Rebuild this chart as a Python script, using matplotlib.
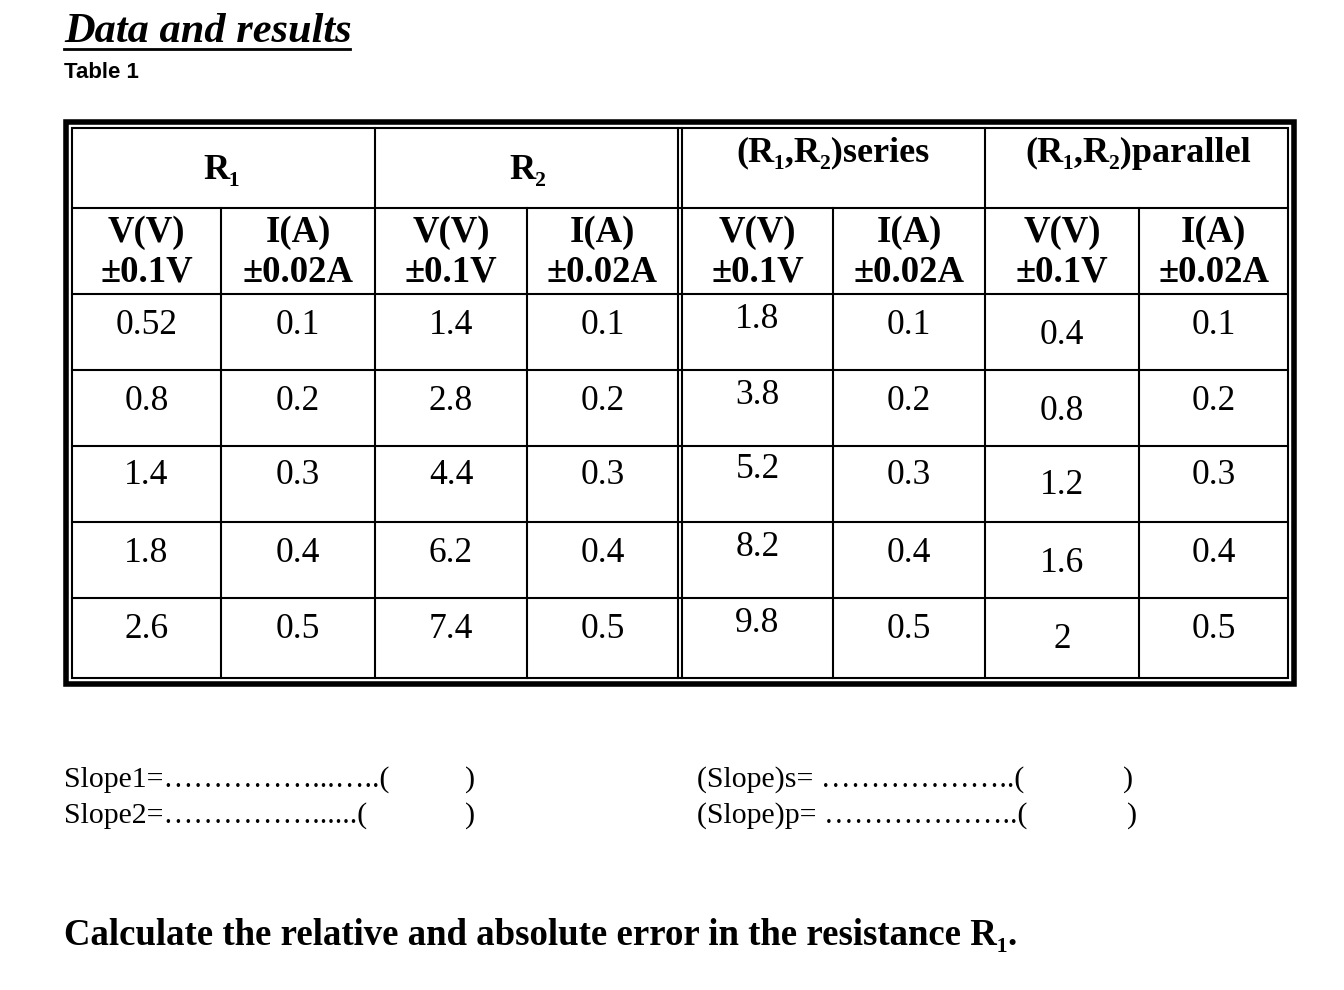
import matplotlib.pyplot as plt

serif = ['Liberation Serif', 'DejaVu Serif']

groups = ['R₁', 'R₂', '(R₁,R₂)series', '(R₁,R₂)parallel']
sub_top = ['V(V)', 'I(A)'] * 4
sub_bot = ['±0.1V', '±0.02A'] * 4
r1_v = ['0.52', '0.8', '1.4', '1.8', '2.6']
r1_i = ['0.1', '0.2', '0.3', '0.4', '0.5']
r2_v = ['1.4', '2.8', '4.4', '6.2', '7.4']
r2_i = ['0.1', '0.2', '0.3', '0.4', '0.5']
ser_v = ['1.8', '3.8', '5.2', '8.2', '9.8']
ser_i = ['0.1', '0.2', '0.3', '0.4', '0.5']
par_v = ['0.4', '0.8', '1.2', '1.6', '2']
par_i = ['0.1', '0.2', '0.3', '0.4', '0.5']
columns = [r1_v, r1_i, r2_v, r2_i, ser_v, ser_i, par_v, par_i]

fig = plt.figure(figsize=(13.44, 9.9), dpi=100)
ax = fig.add_axes([0, 0, 1, 1])
ax.set_xlim(0, 1344)
ax.set_ylim(990, 0)
ax.axis('off')

# table frame
col_x = [72, 221, 375, 527, 678, 833, 985, 1139, 1288]
row_y = [128, 208, 294, 370, 446, 522, 598, 678]
ax.add_patch(plt.Rectangle((66, 122), 1228, 562, fill=False, lw=4, ec='black'))
ax.add_patch(plt.Rectangle((72, 128), 1216, 550, fill=False, lw=1.5, ec='black'))
for x in col_x[1:-1]:
    top = row_y[1] if x in (221, 527, 833, 1139) else row_y[0]
    ax.plot([x, x], [top, row_y[-1]], color='black', lw=1.5)
ax.plot([682, 682], [row_y[0], row_y[-1]], color='black', lw=1.5)
for y in row_y[1:-1]:
    ax.plot([72, 1288], [y, y], color='black', lw=1.5)

# headers
gx = [222, 528, 833, 1138]
gy = [170, 170, 153, 153]
for g, x, y in zip(groups, gx, gy):
    ax.text(x, y, g, ha='center', va='center', family=serif, fontsize=26, fontweight='bold')
centers = [(col_x[i] + col_x[i + 1]) / 2 for i in range(8)]
centers[4] = (682 + 833) / 2
for c, t, b in zip(centers, sub_top, sub_bot):
    ax.text(c, 232, t, ha='center', va='center', family=serif, fontsize=26.5, fontweight='bold')
    ax.text(c, 272, b, ha='center', va='center', family=serif, fontsize=26.5, fontweight='bold')

# data
base_y = [325, 401, 475, 553, 629]
offsets = [0, 0, 0, 0, -5, 0, 10, 0]
for c, vals, off in zip(centers, columns, offsets):
    for v, y in zip(vals, base_y):
        ax.text(c, y + off, v, ha='center', va='center', family=serif, fontsize=25.5)

# titles
ax.text(64, 32, 'Data and results', ha='left', va='center', family=serif,
        fontsize=30.5, fontweight='bold', style='italic')
ax.plot([64, 350], [49, 49], color='black', lw=2)
ax.text(64, 73, 'Table 1', ha='left', va='center', family='Liberation Sans',
        fontsize=16, fontweight='bold')

# slopes
ax.text(64, 780, 'Slope1=……………...…..(', ha='left', va='center', family=serif, fontsize=21.5)
ax.text(64, 816, 'Slope2=……………......(', ha='left', va='center', family=serif, fontsize=21.5)
ax.text(465, 780, ')', ha='left', va='center', family=serif, fontsize=21.5)
ax.text(465, 816, ')', ha='left', va='center', family=serif, fontsize=21.5)
ax.text(697, 780, '(Slope)s= ………………..(', ha='left', va='center', family=serif, fontsize=21.5)
ax.text(697, 816, '(Slope)p= ………………..(', ha='left', va='center', family=serif, fontsize=21.5)
ax.text(1123, 780, ')', ha='left', va='center', family=serif, fontsize=21.5)
ax.text(1127, 816, ')', ha='left', va='center', family=serif, fontsize=21.5)

ax.text(64, 935, 'Calculate the relative and absolute error in the resistance R₁.',
        ha='left', va='center', family=serif, fontsize=26.5, fontweight='bold')

fig.savefig('out.png', dpi=100)
